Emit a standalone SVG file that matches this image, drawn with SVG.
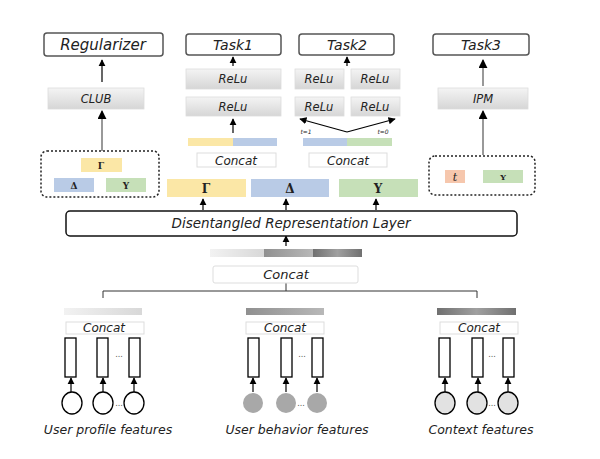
<svg xmlns="http://www.w3.org/2000/svg" width="600" height="459" viewBox="0 0 600 459">
<defs>
<linearGradient id="gb" x1="0" y1="0" x2="0" y2="1"><stop offset="0" stop-color="#f4f4f4"/><stop offset="1" stop-color="#d6d6d6"/></linearGradient>
<linearGradient id="g1" x1="0" x2="1"><stop offset="0" stop-color="#f2f2f2"/><stop offset="1" stop-color="#d8d8d8"/></linearGradient>
<linearGradient id="g2" x1="0" x2="1"><stop offset="0" stop-color="#909090"/><stop offset="1" stop-color="#b8b8b8"/></linearGradient>
<linearGradient id="g3" x1="0" x2="1"><stop offset="0" stop-color="#707070"/><stop offset="0.5" stop-color="#a0a0a0"/><stop offset="1" stop-color="#707070"/></linearGradient>
<marker id="ah" viewBox="0 0 10 10" refX="9" refY="5" markerWidth="6" markerHeight="6" orient="auto"><path d="M0,0 L10,5 L0,10 z" fill="#000"/></marker>
</defs>
<style>
text{font-family:"DejaVu Sans","Liberation Sans",sans-serif;font-style:italic;text-anchor:middle;fill:#222}
.out{fill:#fff;stroke:#555;stroke-width:1.5}
.gray{fill:url(#gb);stroke:#ddd;stroke-width:0.8}
.wc{fill:#fff;stroke:#ddd;stroke-width:1}
.dot{fill:none;stroke:#222;stroke-width:1.5;stroke-dasharray:2,2}
.c{fill:none;stroke:#000;stroke-width:1.2;marker-end:url(#ah)}
.cg{fill:none;stroke:#777;stroke-width:1.5;marker-end:url(#ah)}
.g{font-style:normal;font-family:"DejaVu Serif",serif;font-weight:bold}
.d{fill:#555;font-style:normal}
</style>
<g id="connectors">
<line class="c" x1="102" y1="82" x2="102" y2="60"/>
<line class="cg" x1="102" y1="151" x2="102" y2="111"/>
<line class="c" x1="233" y1="66" x2="233" y2="57"/>
<line class="c" x1="347" y1="66" x2="347" y2="57"/>
<line class="cg" x1="483" y1="86" x2="483" y2="60"/>
<line class="cg" x1="483" y1="155" x2="483" y2="111"/>
<line class="c" x1="233" y1="133" x2="233" y2="119"/>
<polyline class="c" points="347,132 300,119" stroke-width="1"/>
<polyline class="c" points="347,132 395,119" stroke-width="1"/>
<line class="c" x1="203" y1="210" x2="203" y2="199"/>
<line class="c" x1="286" y1="210" x2="286" y2="199"/>
<line class="c" x1="376" y1="210" x2="376" y2="199"/>
<line class="c" x1="286" y1="246" x2="286" y2="236"/>
<polyline fill="none" stroke="#333" stroke-width="1" points="103,298 103,291 477,291 477,298"/>
<line stroke="#333" x1="286" y1="283" x2="286" y2="291"/>
<g>
<line class="c" x1="71" y1="392" x2="71" y2="378"/><line class="c" x1="103" y1="392" x2="103" y2="378"/><line class="c" x1="134" y1="392" x2="134" y2="378"/>
<line class="c" x1="253" y1="392" x2="253" y2="378"/><line class="c" x1="286" y1="392" x2="286" y2="378"/><line class="c" x1="317" y1="392" x2="317" y2="378"/>
<line class="c" x1="445" y1="392" x2="445" y2="378"/><line class="c" x1="478" y1="392" x2="478" y2="378"/><line class="c" x1="508" y1="392" x2="508" y2="378"/>
</g>
</g>
<g id="regularizer"><rect class="out" x="44" y="33" width="119" height="23" rx="3"/><text x="103" y="50" font-size="15">Regularizer</text></g>
<g id="task1"><rect class="out" x="186" y="34" width="95" height="21" rx="3"/><text x="233" y="50" font-size="14">Task1</text></g>
<g id="task2"><rect class="out" x="299" y="34" width="95" height="21" rx="3"/><text x="347" y="50" font-size="14">Task2</text></g>
<g id="task3"><rect class="out" x="433" y="34" width="96" height="21" rx="3"/><text x="481" y="50" font-size="14">Task3</text></g>
<g id="club"><rect class="gray" x="48" y="88" width="96" height="21"/><text x="96" y="103" font-size="11.5">CLUB</text></g>
<g id="ipm"><rect class="gray" x="438" y="88" width="90" height="21"/><text x="483" y="103" font-size="11.5">IPM</text></g>
<g id="relu1a"><rect class="gray" x="186" y="69" width="95" height="20"/><text x="233" y="83" font-size="11.5">ReLu</text></g>
<g id="relu1b"><rect class="gray" x="186" y="97" width="95" height="19"/><text x="233" y="111" font-size="11.5">ReLu</text></g>
<g id="relu2a"><rect class="gray" x="295" y="69" width="49" height="20"/><text x="319" y="83" font-size="11.5">ReLu</text></g>
<g id="relu2b"><rect class="gray" x="351" y="69" width="49" height="20"/><text x="375" y="83" font-size="11.5">ReLu</text></g>
<g id="relu2c"><rect class="gray" x="295" y="97" width="49" height="19"/><text x="319" y="111" font-size="11.5">ReLu</text></g>
<g id="relu2d"><rect class="gray" x="351" y="97" width="49" height="19"/><text x="375" y="111" font-size="11.5">ReLu</text></g>
<text x="306" y="134" font-size="6" fill="#777">t=1</text><text x="383" y="134" font-size="6" fill="#777">t=0</text>
<g id="concat1"><rect x="188" y="138" width="45" height="8" fill="#fbe7a6"/><rect x="233" y="138" width="44" height="8" fill="#b9cbe6"/><rect class="wc" x="197" y="153" width="79" height="14"/><text x="236" y="165" font-size="12">Concat</text></g>
<g id="concat2"><rect x="303" y="138" width="44" height="8" fill="#b9cbe6"/><rect x="347" y="138" width="45" height="8" fill="#c6e0b8"/><rect class="wc" x="309" y="153" width="78" height="14"/><text x="348" y="165" font-size="12">Concat</text></g>
<g id="regbox"><rect class="dot" x="41" y="151" width="118" height="46" rx="6"/>
<rect x="81" y="158" width="41" height="14" fill="#fbe7a6"/><text class="g" x="101" y="169" font-size="9">Γ</text>
<rect x="54" y="178" width="40" height="14" fill="#b9cbe6"/><text class="g" x="74" y="189" font-size="9">Δ</text>
<rect x="106" y="178" width="40" height="14" fill="#c6e0b8"/><text class="g" x="126" y="189" font-size="9">Υ</text></g>
<g id="ipmbox"><rect class="dot" x="429" y="156" width="106" height="39" rx="6"/>
<rect x="445" y="170" width="20" height="13" fill="#f6c7ad"/><text x="455" y="181" font-size="11" style="font-family:'DejaVu Serif',serif">t</text>
<rect x="483" y="170" width="40" height="13" fill="#c6e0b8"/><text class="g" x="503" y="180" font-size="8">Υ</text></g>
<g id="gamma"><rect x="167" y="179" width="79" height="18" fill="#fbe7a6"/><text class="g" x="206" y="193" font-size="12">Γ</text></g>
<g id="delta"><rect x="251" y="179" width="78" height="18" fill="#b9cbe6"/><text class="g" x="290" y="193" font-size="12">Δ</text></g>
<g id="upsilon"><rect x="339" y="179" width="79" height="18" fill="#c6e0b8"/><text class="g" x="378" y="193" font-size="12">Υ</text></g>
<g id="drl"><rect x="66" y="211" width="451" height="25" rx="4" fill="#fff" stroke="#111" stroke-width="1.5"/><text x="291" y="228" font-size="13.5">Disentangled Representation Layer</text></g>
<g id="concatMain"><rect x="210" y="249" width="54" height="8" fill="url(#g1)"/><rect x="264" y="249" width="49" height="8" fill="url(#g2)"/><rect x="313" y="249" width="49" height="8" fill="url(#g3)"/>
<rect class="wc" x="213" y="266" width="145" height="17" rx="2"/><text x="286" y="279" font-size="13">Concat</text></g>
<g id="userProfile"><rect x="64" y="308" width="78" height="7" fill="url(#g1)"/><rect class="wc" x="66" y="322" width="78" height="12"/><text x="104" y="332" font-size="12">Concat</text>
<g fill="#fff" stroke="#000" stroke-width="1.3"><rect x="65" y="338" width="11" height="39"/><rect x="97" y="338" width="11" height="39"/><rect x="129" y="338" width="11" height="39"/>
<ellipse cx="72" cy="403" rx="10" ry="11"/><ellipse cx="103" cy="403" rx="10" ry="11"/><ellipse cx="134" cy="403" rx="10" ry="11"/></g>
<text class="d" x="119" y="357" font-size="8">...</text><text class="d" x="119" y="406" font-size="8">...</text>
<text x="108" y="434" font-size="12.5">User profile features</text></g>
<g id="userBehavior"><rect x="246" y="308" width="78" height="7" fill="url(#g2)"/><rect class="wc" x="246" y="322" width="78" height="12"/><text x="285" y="332" font-size="12">Concat</text>
<g fill="#fff" stroke="#000" stroke-width="1.3"><rect x="248" y="338" width="11" height="39"/><rect x="281" y="338" width="11" height="39"/><rect x="312" y="338" width="11" height="39"/></g>
<g fill="#a8a8a8"><ellipse cx="253" cy="403" rx="10" ry="10"/><ellipse cx="286" cy="403" rx="10" ry="10"/><ellipse cx="317" cy="403" rx="10" ry="10"/></g>
<text class="d" x="302" y="357" font-size="8">...</text><text class="d" x="301" y="406" font-size="8">...</text>
<text x="297" y="434" font-size="12.5">User behavior features</text></g>
<g id="context"><rect x="437" y="308" width="79" height="7" fill="url(#g3)"/><rect class="wc" x="440" y="322" width="78" height="12"/><text x="479" y="332" font-size="12">Concat</text>
<g fill="#fff" stroke="#000" stroke-width="1.3"><rect x="439" y="338" width="11" height="39"/><rect x="472" y="338" width="11" height="39"/><rect x="503" y="338" width="11" height="39"/></g>
<g fill="#e2e2e2" stroke="#000" stroke-width="1.3"><ellipse cx="445" cy="403" rx="10" ry="11"/><ellipse cx="477" cy="403" rx="10" ry="11"/><ellipse cx="508" cy="403" rx="10" ry="11"/></g>
<text class="d" x="492" y="357" font-size="8">...</text><text class="d" x="492" y="406" font-size="8">...</text>
<text x="481" y="434" font-size="12.5">Context features</text></g>
</svg>
